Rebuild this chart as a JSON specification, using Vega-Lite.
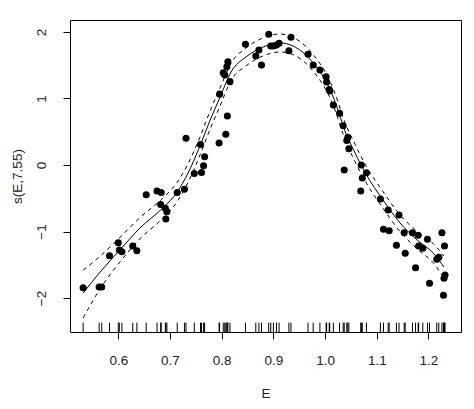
{
  "$schema": "https://vega.github.io/schema/vega-lite/v6.json",
  "width": 391,
  "height": 312,
  "autosize": "none",
  "padding": {"left": 70, "top": 20, "right": 13, "bottom": 77},
  "background": "white",
  "datasets": {
    "pts": [
      {"E": 0.532, "s": -1.845}, {"E": 0.563, "s": -1.835}, {"E": 0.568, "s": -1.835},
      {"E": 0.583, "s": -1.364}, {"E": 0.600, "s": -1.168}, {"E": 0.602, "s": -1.278},
      {"E": 0.607, "s": -1.304}, {"E": 0.628, "s": -1.218}, {"E": 0.636, "s": -1.289},
      {"E": 0.654, "s": -0.447}, {"E": 0.675, "s": -0.391}, {"E": 0.683, "s": -0.414},
      {"E": 0.682, "s": -0.594}, {"E": 0.691, "s": -0.651}, {"E": 0.694, "s": -0.702},
      {"E": 0.692, "s": -0.812}, {"E": 0.714, "s": -0.414}, {"E": 0.728, "s": -0.365},
      {"E": 0.747, "s": -0.128}, {"E": 0.761, "s": -0.113}, {"E": 0.765, "s": -0.011},
      {"E": 0.767, "s": 0.125}, {"E": 0.731, "s": 0.402}, {"E": 0.759, "s": 0.308},
      {"E": 0.795, "s": 0.331}, {"E": 0.808, "s": 0.463}, {"E": 0.811, "s": 0.737},
      {"E": 0.796, "s": 1.065}, {"E": 0.816, "s": 1.253}, {"E": 0.803, "s": 1.388},
      {"E": 0.806, "s": 1.353}, {"E": 0.812, "s": 1.553}, {"E": 0.810, "s": 1.478},
      {"E": 0.846, "s": 1.815}, {"E": 0.872, "s": 1.729}, {"E": 0.866, "s": 1.639},
      {"E": 0.877, "s": 1.504}, {"E": 0.891, "s": 1.965}, {"E": 0.895, "s": 1.789},
      {"E": 0.900, "s": 1.789}, {"E": 0.906, "s": 1.805}, {"E": 0.911, "s": 1.830},
      {"E": 0.934, "s": 1.920}, {"E": 0.930, "s": 1.719}, {"E": 0.967, "s": 1.665},
      {"E": 0.977, "s": 1.504}, {"E": 0.990, "s": 1.429}, {"E": 1.002, "s": 1.328},
      {"E": 1.003, "s": 1.248}, {"E": 1.008, "s": 1.135}, {"E": 1.009, "s": 1.113},
      {"E": 1.016, "s": 0.902}, {"E": 1.028, "s": 0.777}, {"E": 1.035, "s": 0.591},
      {"E": 1.044, "s": 0.417}, {"E": 1.042, "s": 0.368}, {"E": 1.046, "s": 0.245},
      {"E": 1.037, "s": -0.075}, {"E": 1.070, "s": 0.000}, {"E": 1.080, "s": -0.116},
      {"E": 1.072, "s": -0.195}, {"E": 1.069, "s": -0.391}, {"E": 1.107, "s": -0.511},
      {"E": 1.122, "s": -0.677}, {"E": 1.143, "s": -0.752}, {"E": 1.113, "s": -0.967},
      {"E": 1.124, "s": -0.988}, {"E": 1.153, "s": -1.018}, {"E": 1.138, "s": -1.208},
      {"E": 1.155, "s": -1.328}, {"E": 1.169, "s": -1.018}, {"E": 1.180, "s": -1.057},
      {"E": 1.198, "s": -1.117}, {"E": 1.181, "s": -1.218}, {"E": 1.189, "s": -1.253},
      {"E": 1.226, "s": -1.018}, {"E": 1.231, "s": -1.218}, {"E": 1.216, "s": -1.418},
      {"E": 1.220, "s": -1.388}, {"E": 1.175, "s": -1.544}, {"E": 1.202, "s": -1.779},
      {"E": 1.232, "s": -1.654}, {"E": 1.230, "s": -1.704}, {"E": 1.229, "s": -1.959}
    ],
    "fit": [
      {"E": 0.532, "fit": -1.925, "lo": -2.30, "hi": -1.58},
      {"E": 0.565, "fit": -1.609, "lo": -1.86, "hi": -1.37},
      {"E": 0.603, "fit": -1.278, "lo": -1.46, "hi": -1.09},
      {"E": 0.642, "fit": -0.947, "lo": -1.11, "hi": -0.79},
      {"E": 0.686, "fit": -0.647, "lo": -0.80, "hi": -0.50},
      {"E": 0.714, "fit": -0.406, "lo": -0.55, "hi": -0.26},
      {"E": 0.735, "fit": -0.120, "lo": -0.26, "hi": 0.02},
      {"E": 0.758, "fit": 0.286, "lo": 0.15, "hi": 0.42},
      {"E": 0.777, "fit": 0.662, "lo": 0.53, "hi": 0.80},
      {"E": 0.797, "fit": 1.023, "lo": 0.89, "hi": 1.16},
      {"E": 0.818, "fit": 1.398, "lo": 1.27, "hi": 1.53},
      {"E": 0.847, "fit": 1.624, "lo": 1.49, "hi": 1.76},
      {"E": 0.880, "fit": 1.774, "lo": 1.64, "hi": 1.91},
      {"E": 0.913, "fit": 1.835, "lo": 1.70, "hi": 1.97},
      {"E": 0.938, "fit": 1.789, "lo": 1.66, "hi": 1.92},
      {"E": 0.977, "fit": 1.534, "lo": 1.41, "hi": 1.66},
      {"E": 1.010, "fit": 1.128, "lo": 1.00, "hi": 1.25},
      {"E": 1.025, "fit": 0.827, "lo": 0.70, "hi": 0.95},
      {"E": 1.035, "fit": 0.586, "lo": 0.46, "hi": 0.71},
      {"E": 1.058, "fit": 0.180, "lo": 0.05, "hi": 0.31},
      {"E": 1.079, "fit": -0.135, "lo": -0.26, "hi": -0.01},
      {"E": 1.112, "fit": -0.526, "lo": -0.65, "hi": -0.40},
      {"E": 1.145, "fit": -0.872, "lo": -1.00, "hi": -0.75},
      {"E": 1.178, "fit": -1.128, "lo": -1.26, "hi": -1.00},
      {"E": 1.209, "fit": -1.323, "lo": -1.47, "hi": -1.18},
      {"E": 1.230, "fit": -1.534, "lo": -1.70, "hi": -1.37}
    ]
  },
  "layer": [
    {
      "data": {"name": "pts"},
      "mark": {"type": "rule", "color": "black", "strokeWidth": 1},
      "encoding": {
        "x": {"field": "E", "type": "quantitative"},
        "y": {"datum": -2.511},
        "y2": {"datum": -2.37}
      }
    },
    {
      "data": {"name": "fit"},
      "mark": {"type": "line", "color": "black", "strokeWidth": 1, "interpolate": "monotone"},
      "encoding": {
        "x": {"field": "E", "type": "quantitative"},
        "y": {"field": "fit", "type": "quantitative"}
      }
    },
    {
      "data": {"name": "fit"},
      "mark": {"type": "line", "color": "black", "strokeWidth": 1, "strokeDash": [4, 4], "interpolate": "monotone"},
      "encoding": {
        "x": {"field": "E", "type": "quantitative"},
        "y": {"field": "lo", "type": "quantitative"}
      }
    },
    {
      "data": {"name": "fit"},
      "mark": {"type": "line", "color": "black", "strokeWidth": 1, "strokeDash": [4, 4], "interpolate": "monotone"},
      "encoding": {
        "x": {"field": "E", "type": "quantitative"},
        "y": {"field": "hi", "type": "quantitative"}
      }
    },
    {
      "data": {"name": "pts"},
      "mark": {"type": "circle", "color": "black", "opacity": 1, "size": 50},
      "encoding": {
        "x": {
          "field": "E",
          "type": "quantitative",
          "title": "E",
          "scale": {"domain": [0.5066, 1.2629], "nice": false, "zero": false},
          "axis": {"values": [0.6, 0.7, 0.8, 0.9, 1.0, 1.1, 1.2], "format": ".1f"}
        },
        "y": {
          "field": "s",
          "type": "quantitative",
          "title": "s(E,7.55)",
          "scale": {"domain": [-2.511, 2.18], "nice": false, "zero": false},
          "axis": {
            "values": [-2, -1, 0, 1, 2],
            "format": "d",
            "labelAngle": 270,
            "labelAlign": "center",
            "labelBaseline": "bottom",
            "labelPadding": 15,
            "titlePadding": 10
          }
        }
      }
    }
  ],
  "config": {
    "view": {"stroke": "black", "strokeWidth": 1},
    "axis": {
      "grid": false,
      "domain": false,
      "tickColor": "black",
      "tickSize": 7,
      "labelFont": "Liberation Sans",
      "labelFontSize": 13.5,
      "labelColor": "#222",
      "titleFont": "Liberation Sans",
      "titleFontSize": 13.5,
      "titleFontWeight": "normal",
      "titleColor": "#222"
    },
    "axisX": {"labelPadding": 14, "titlePadding": 20}
  }
}
